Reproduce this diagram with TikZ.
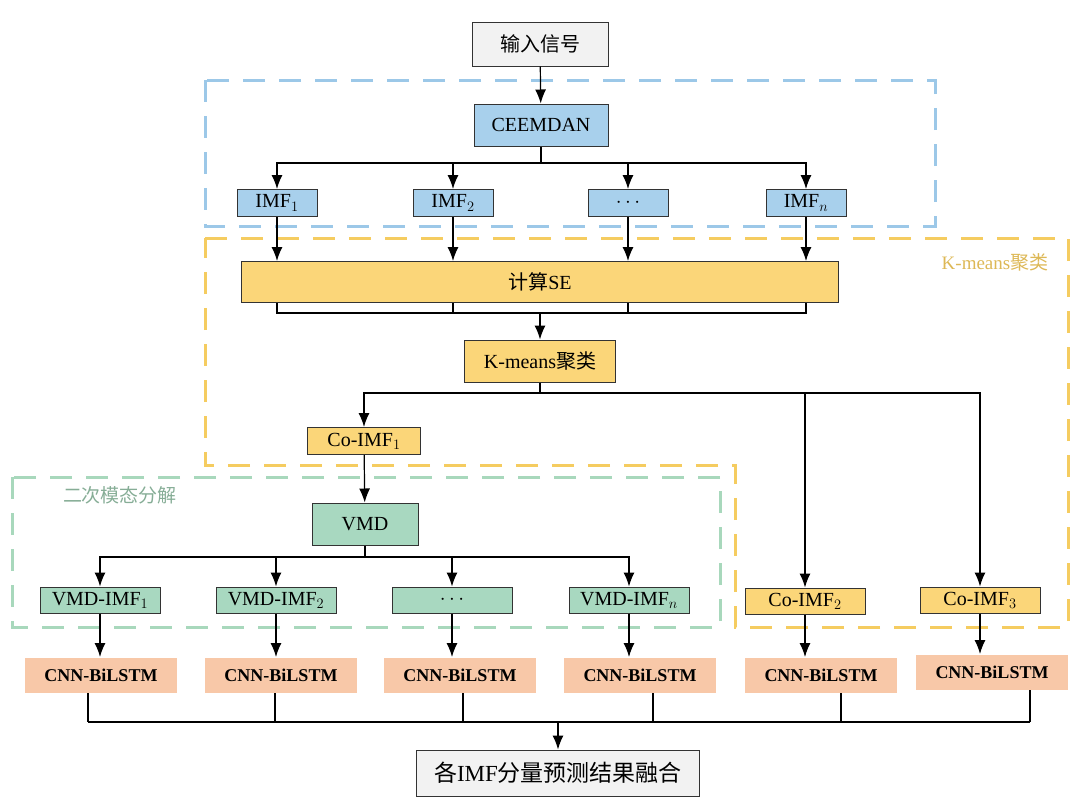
\documentclass[tikz,border=0pt]{standalone}
\usepackage{fontspec}
\setmainfont{Liberation Serif}
\newfontfamily\cjk{Noto Sans CJK SC}
\usetikzlibrary{arrows.meta}
\definecolor{gry}{HTML}{F2F2F2}
\definecolor{blu}{HTML}{A8D0EC}
\definecolor{yel}{HTML}{FBD679}
\definecolor{grn}{HTML}{A8D8C0}
\definecolor{sal}{HTML}{F8C8A8}
\definecolor{bdash}{HTML}{9CC8E8}
\definecolor{ydash}{HTML}{F5CC60}
\definecolor{gdash}{HTML}{A8D8BC}
\begin{document}
\begin{tikzpicture}[x=1pt,y=-1pt,
 box/.style={draw=black!80,line width=1pt,inner sep=0pt,font=\fontsize{20}{22}\selectfont},
 arr/.style={line width=1.2pt,-{Latex[length=14pt,width=11pt]}},
 ln/.style={line width=1.2pt},
 dsh/.style={line width=3pt,dash pattern=on 22pt off 14pt}]
\useasboundingbox (0,0) rectangle (1080,801);
% dashed regions
\draw[dsh,bdash] (205,80) rectangle (935,226);
\draw[dsh,ydash] (205,238) -- (1068,238) -- (1068,627) -- (735,627) -- (735,465) -- (205,465) -- cycle;
\draw[dsh,gdash] (12,477) rectangle (720,627);
\node[text=ydash!90!black,font=\cjk\fontsize{19}{21}\selectfont] (lk) at (995,262) {\rmfamily K-means\cjk 聚类};
\node[text=gdash!80!black,font=\cjk\fontsize{19}{21}\selectfont] (lg) at (120,495) {二次模态分解};
% nodes
\node[box,fill=gry,minimum width=136pt,minimum height=44pt,font=\cjk\fontsize{20}{22}\selectfont] (in) at (540,44) {输入信号};
\node[box,fill=blu,minimum width=134pt,minimum height=42pt] (ce) at (541,125) {CEEMDAN};
\foreach \n/\x/\t in {i1/277/IMF$_1$,i2/453/IMF$_2$,i3/628/$\cdots$,i4/806/IMF$_n$}
  \node[box,fill=blu,minimum width=80pt,minimum height=27pt] (\n) at (\x,203) {\t};
\node[box,fill=yel,minimum width=597pt,minimum height=41pt] (se) at (540,282) {{\cjk 计算}SE};
\node[box,fill=yel,minimum width=151pt,minimum height=42pt] (km) at (540,361) {K-means{\cjk 聚类}};
\node[box,fill=yel,minimum width=113pt,minimum height=27pt] (c1) at (364,441) {Co-IMF$_1$};
\node[box,fill=grn,minimum width=106pt,minimum height=42pt] (vmd) at (365,524) {VMD};
\foreach \n/\x/\t in {v1/100/VMD-IMF$_1$,v2/276/VMD-IMF$_2$,v3/452/$\cdots$,v4/629/VMD-IMF$_n$}
  \node[box,fill=grn,minimum width=120pt,minimum height=26pt] (\n) at (\x,600) {\t};
\node[box,fill=yel,minimum width=120pt,minimum height=26pt] (c2) at (805,601) {Co-IMF$_2$};
\node[box,fill=yel,minimum width=120pt,minimum height=26pt] (c3) at (980,600) {Co-IMF$_3$};
\foreach \n/\x/\y in {n1/101/675,n2/281/675,n3/460/675,n4/640/675,n5/821/675,n6/992/672}
  \node[box,draw=none,fill=sal,minimum width=152pt,minimum height=35pt,font=\bfseries\fontsize{18}{20}\selectfont] (\n) at (\x,\y) {CNN-BiLSTM};
\node[box,fill=gry,minimum width=283pt,minimum height=46pt,font=\fontsize{23}{25}\selectfont] (out) at (558,773) {{\cjk 各}IMF{\cjk 分量预测结果融合}};
% connectors
\draw[arr] (in) -- (ce);
\coordinate (b0) at (541,163);
\draw[ln] (ce) -- (b0);
\foreach \n in {i1,i2,i3,i4} {\draw[arr] (b0) -| (\n.north); \draw[arr] (\n.south) -- (\n.south |- se.north);}
\coordinate (s0) at (540,313);
\foreach \n in {i1,i2,i3,i4} \draw[ln] (\n |- se.south) |- (s0);
\draw[arr] (s0) -- (km);
\coordinate (k0) at (540,393);
\draw[ln] (km) -- (k0);
\draw[arr] (k0) -| (c1.north);
\draw[arr] (k0) -| (c2.north);
\draw[arr] (k0) -| (c3.north);
\draw[arr] (c1) -- (vmd);
\coordinate (m0) at (365,557);
\draw[ln] (vmd) -- (m0);
\foreach \n in {v1,v2,v3,v4} \draw[arr] (m0) -| (\n.north);
\foreach \a/\b in {v1/n1,v2/n2,v3/n3,v4/n4,c2/n5,c3/n6} \draw[arr] (\a.south) -- (\a.south |- \b.north);
\coordinate (o0) at (558,722);
\foreach \n/\x in {n1/88,n2/275,n3/463,n4/653,n5/841,n6/1030} {\draw[ln] (\x,0 |- \n.south) -- (\x,722);}
\draw[ln] (88,722) -- (1030,722);
\draw[arr] (o0) -- (out);
\end{tikzpicture}
\end{document}
